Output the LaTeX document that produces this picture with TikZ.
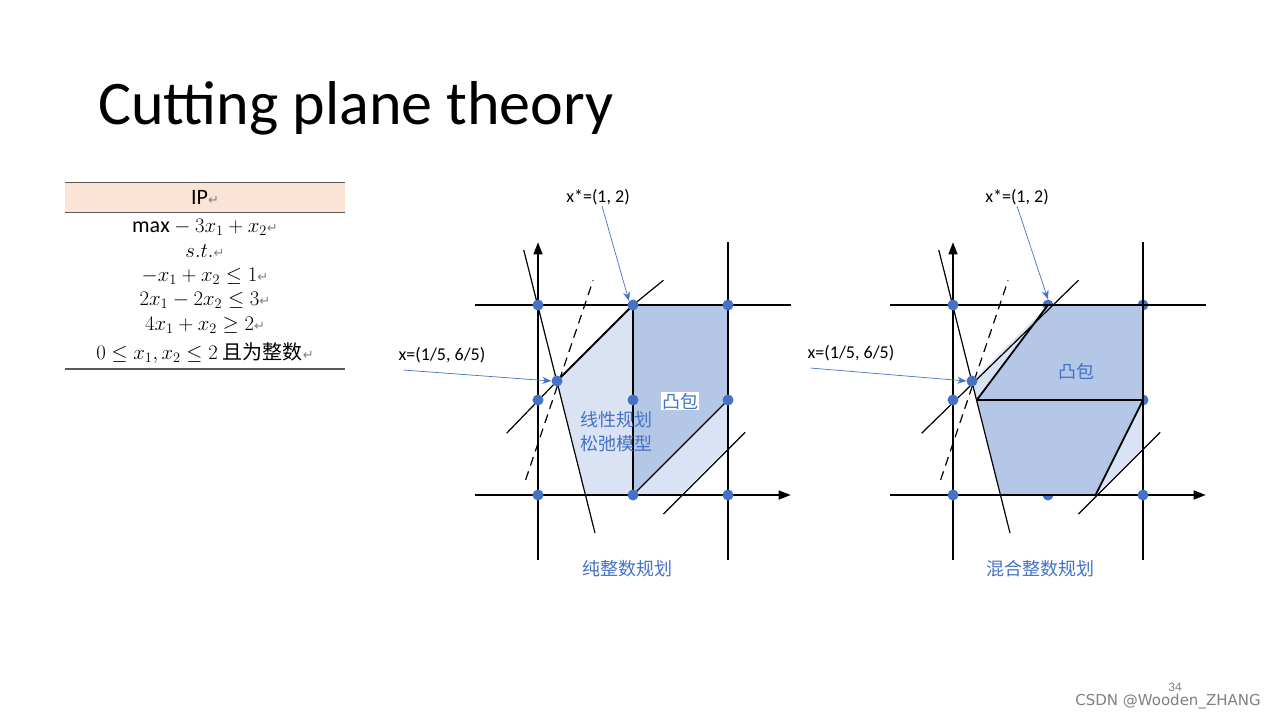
\documentclass[tikz,border=0pt]{standalone}
\usepackage{fontspec}
\setmainfont{Carlito}
\newfontfamily\cjk{Noto Sans CJK SC}
\newfontfamily\dv{DejaVu Sans}
\usetikzlibrary{arrows.meta}
\definecolor{mblue}{HTML}{4472C4}
\definecolor{lfill}{HTML}{DAE3F3}
\definecolor{dfill}{HTML}{B4C7E7}
\definecolor{peach}{HTML}{FBE3D6}
\tikzset{
 grid/.style={line width=1.2pt},
 edge/.style={line width=1.8pt},
 dotp/.style={circle,fill=mblue,inner sep=0pt,minimum size=11pt},
 ann/.style={font=\fontsize{18}{20}\selectfont,inner sep=1pt},
 annarrow/.style={draw=mblue,line width=0.7pt,-{Stealth[length=9pt,width=7pt]}},
 blab/.style={text=mblue,font=\cjk\fontsize{18}{22}\selectfont,inner sep=1pt},
 row/.style={font=\fontsize{22}{24}\selectfont,inner sep=0pt},
}
\newcommand{\rt}{\textcolor{gray}{\dv\fontsize{13}{13}\selectfont ↵}}
\begin{document}
\begin{tikzpicture}[x=1pt,y=-1pt]
\useasboundingbox[fill=white] (0,0) rectangle (1280,720);
\node[anchor=west,font=\fontsize{62}{66}\selectfont,inner sep=0pt] (title) at (98,108) {Cutting plane theory};
% table
\fill[peach] (65,182) rectangle (345,212);
\draw[gray!70!black,line width=0.8pt] (65,182) -- (345,182);
\draw[gray!70!black,line width=0.8pt] (65,212) -- (345,212);
\draw[gray!70!black,line width=1.2pt] (65,369) -- (345,369);
\node[row,font=\fontsize{22}{24}\selectfont] (h) at (205,197) {IP\rt};
\node[row] (r1) at (205,227) {$\mathrm{max} -3x_1+x_2$\rt};
\node[row] (r2) at (205,251) {$s.t.$\rt};
\node[row] (r3) at (205,276) {$-x_1+x_2\leq 1$\rt};
\node[row] (r4) at (205,300) {$2x_1-2x_2\leq 3$\rt};
\node[row] (r5) at (205,325) {$4x_1+x_2\geq 2$\rt};
\node[row] (r6) at (205,353) {$0\leq x_1,x_2\leq 2$\ {\cjk\fontsize{20}{22}\selectfont 且为整数}\rt};
% ---------- left diagram
\begin{scope}[shift={(538pt,-495pt)},x=95pt,y=95pt]
\fill[lfill] (0.2,1.2) -- (1,2) -- (2,2) -- (2,0.5) -- (1.5,0) -- (0.5,0) -- cycle;
\fill[dfill] (1,0) -- (1,2) -- (2,2) -- (2,1) -- cycle;
\draw[grid,-{Triangle[length=12pt,width=9pt]}] (0,-0.68) -- (0,2.66);
\draw[grid] (2,-0.68) -- (2,2.66);
\draw[grid,-{Triangle[length=12pt,width=9pt]}] (-0.66,0) -- (2.66,0);
\draw[grid] (-0.66,2) -- (2.66,2);
\draw[grid] (1,0) -- (1,2);
\draw[grid] (1,0) -- (2,1);
\draw[edge] (1,2) -- (2,2);
\draw[edge] (0.2,1.2) -- (1,2);
\draw[grid] (-0.33,0.65) -- (0.2,1.2) (1,2) -- (1.32,2.26);
\draw[grid] (-0.15,2.58) -- (0.6,-0.4);
\draw[grid,dashed,dash pattern=on 9pt off 6pt] (-0.13,0.16) -- (0.58,2.26);
\draw[grid] (1.32,-0.2) -- (2.18,0.66);
\foreach \i in {0,1,2}{\foreach \j in {0,1,2}{\node[dotp] (L\i\j) at (\i,\j) {};}}
\node[dotp] (Lx) at (0.2,1.2) {};
\end{scope}
\node[ann] (lxs) at (598,197) {x*=(1, 2)};
\draw[annarrow] (lxs.south) ++(4,0) coordinate (lxa) (lxa) -- (L12.north west);
\node[ann] (lxl) at (442,355) {x=(1/5, 6/5)};
\draw[annarrow] (lxl.south west) ++(6,6) coordinate (lxb) (lxb) -- (Lx.west);
\node[blab,fill=white] (lhull) at (680,401) {凸包};
\node[blab,align=left,font=\cjk\fontsize{18}{24}\selectfont] (llp) at (616,432) {线性规划\\松弛模型};
\node[blab] (lname) at (627,569) {纯整数规划};
% ---------- right diagram
\begin{scope}[shift={(953pt,-495pt)},x=95pt,y=95pt]
\foreach \i/\j in {1/0,2/1,2/2,1/2}{\node[dotp] (R\i\j) at (\i,\j) {};}
\fill[lfill] (0.2,1.2) -- (1,2) -- (2,2) -- (2,0.5) -- (1.5,0) -- (0.5,0) -- cycle;
\fill[dfill] (0.25,1) -- (1,2) -- (2,2) -- (2,1) -- (1.5,0) -- (0.5,0) -- cycle;
\draw[grid,-{Triangle[length=12pt,width=9pt]}] (0,-0.68) -- (0,2.66);
\draw[grid] (2,-0.68) -- (2,2.66);
\draw[grid,-{Triangle[length=12pt,width=9pt]}] (-0.66,0) -- (2.66,0);
\draw[grid] (-0.66,2) -- (2.66,2);
\draw[edge] (0.25,1) -- (1,2) -- (2,2) -- (2,1) -- (1.5,0);
\draw[edge] (0.25,1) -- (2,1);
\draw[grid] (-0.33,0.65) -- (1.32,2.26);
\draw[grid] (-0.15,2.58) -- (0.6,-0.4);
\draw[grid,dashed,dash pattern=on 9pt off 6pt] (-0.13,0.16) -- (0.58,2.26);
\draw[grid] (1.32,-0.2) -- (2.18,0.66);
\foreach \i in {0}{\foreach \j in {0,1,2}{\node[dotp] (R\i\j) at (\i,\j) {};}}
\node[dotp] (R20) at (2,0) {};
\node[dotp] (Rx) at (0.2,1.2) {};
\end{scope}
\node[ann] (rxs) at (1017,197) {x*=(1, 2)};
\draw[annarrow] (rxs.south) coordinate (rxa) (rxa) -- (R12.north);
\node[ann] (rxl) at (851,353) {x=(1/5, 6/5)};
\draw[annarrow] (rxl.south west) ++(4,6) coordinate (rxb) (rxb) -- (Rx.west);
\node[blab] (rhull) at (1076,371) {凸包};
\node[blab] (rname) at (1040,569) {混合整数规划};
% footer
\node[text=gray,font=\fontsize{13}{13}\selectfont] (pg) at (1175,687) {34};
\node[text=gray,font=\dv\fontsize{15}{15}\selectfont,anchor=center] (csdn) at (1168,702) {CSDN @Wooden\_ZHANG};
\end{tikzpicture}
\end{document}
